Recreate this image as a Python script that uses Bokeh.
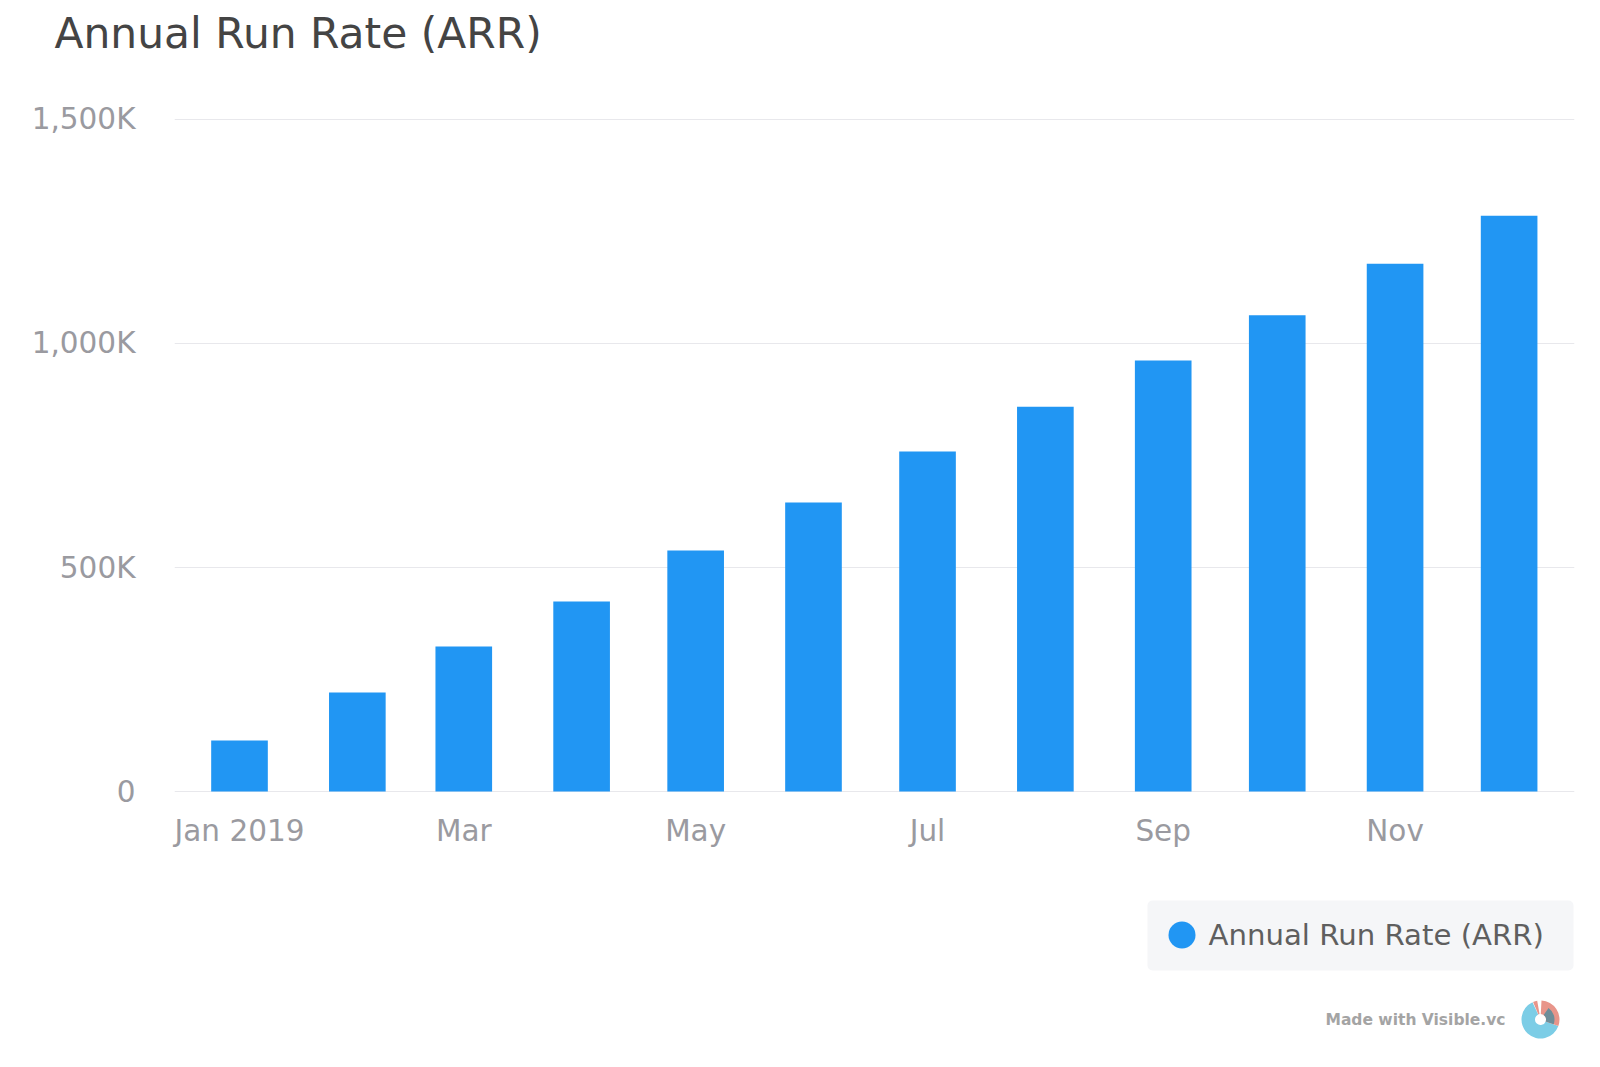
import math
import pandas as pd
from bokeh.plotting import figure
from bokeh.layouts import column
from bokeh.models import Range1d, FixedTicker, BoxAnnotation, Title
from bokeh.core.properties import value
from bokeh.embed import file_html
from bokeh.resources import INLINE

# ---- data ----
months = ["2019-01-01", "2019-02-01", "2019-03-01", "2019-04-01", "2019-05-01", "2019-06-01",
          "2019-07-01", "2019-08-01", "2019-09-01", "2019-10-01", "2019-11-01", "2019-12-01"]
arr_values = [114000, 221000, 324000, 424000, 538000, 645000,
              759000, 859000, 962000, 1063000, 1178000, 1285000]
series_name = "Annual Run Rate (ARR)"
x_tick_dates = ["2019-01-01", "2019-03-01", "2019-05-01", "2019-07-01", "2019-09-01", "2019-11-01"]
x_tick_labels = ["Jan 2019", "Mar", "May", "Jul", "Sep", "Nov"]
y_ticks = [0, 500000, 1000000, 1500000]
y_tick_labels = ["0", "500K", "1,000K", "1,500K"]

FONT = "DejaVu Sans"
BLUE = "#2196f3"
BL, BR = 174, 10          # frame borders (left/right) shared by both figures
W = 1584

def ms(d):
    return float(pd.Timestamp(d).value // 10**6)

xs = [pd.Timestamp(d) for d in months]
DAY = 86400000.0
x_start = ms(months[0]) - 17.1 * DAY
x_end = ms(months[-1]) + 17.2 * DAY

p = figure(width=W, height=878, x_axis_type="datetime", title=None,
           x_range=Range1d(x_start, x_end), y_range=Range1d(-2000, 1502000),
           output_backend="svg", toolbar_location=None,
           min_border_left=BL, min_border_right=BR, min_border_top=118, min_border_bottom=86)
p.outline_line_color = None
p.background_fill_color = "white"
p.border_fill_color = "white"

# spacer between frame and title, then the title itself
p.add_layout(Title(text=" ", text_font_size="1px", standoff=58), "above")
p.add_layout(Title(text=series_name, text_font=FONT, text_font_size="42.4px",
                   text_font_style="normal", text_color="#444444", align="left",
                   offset=54 - BL, standoff=0), "above")

p.vbar(x=xs, top=arr_values, width=14.9 * DAY, color=BLUE, line_color=None)

# axes
xa = p.xaxis[0]
xa.ticker = FixedTicker(ticks=[ms(d) for d in x_tick_dates])
xa.major_label_overrides = {ms(d): lab for d, lab in zip(x_tick_dates, x_tick_labels)}
ya = p.yaxis[0]
ya.ticker = FixedTicker(ticks=y_ticks)
ya.major_label_overrides = {t: lab for t, lab in zip(y_ticks, y_tick_labels)}
for ax in (xa, ya):
    ax.axis_line_color = None
    ax.major_tick_line_color = None
    ax.minor_tick_line_color = None
    ax.major_tick_out = 0
    ax.major_tick_in = 0
    ax.major_label_text_font = FONT
    ax.major_label_text_font_size = "29.5px"
    ax.major_label_text_color = "#9a9aa0"
xa.major_label_standoff = 21
ya.major_label_standoff = 39

p.xgrid.grid_line_color = None
p.ygrid.grid_line_color = "#e8e8ec"
p.ygrid.grid_line_width = 1

# ---- footer: legend + credit (x in page pixels, y = pixels up from footer bottom) ----
FH = 181
f = figure(width=W, height=FH, x_range=Range1d(BL, W - BR), y_range=Range1d(0, FH),
           output_backend="svg", toolbar_location=None,
           min_border_left=BL, min_border_right=BR, min_border_top=0, min_border_bottom=0)
f.axis.visible = False
f.grid.visible = False
f.outline_line_color = None
f.background_fill_color = "white"
f.border_fill_color = "white"

f.add_layout(BoxAnnotation(left=1147, right=1573, bottom=89, top=159, fill_color="#f5f6f8",
                           fill_alpha=1.0, line_color=None, border_radius=5, level="underlay"))
f.scatter(x=[1181.5], y=[124.5], size=27, marker="circle", color=BLUE, line_color=None)
f.text(x=[1208], y=[124.5], text=[series_name], text_font=value(FONT), text_font_size="29.2px",
       text_color="#5f5f5f", text_baseline="middle", text_align="left")

f.text(x=[1505], y=[40], text=["Made with Visible.vc"], text_font=value(FONT),
       text_font_size="15.5px", text_font_style="bold", text_color="#a4a4a4",
       text_baseline="middle", text_align="right")

d = math.pi / 180
cx, cy = [1540], [40]
f.annular_wedge(x=cx, y=cy, inner_radius=5.5, outer_radius=19,
                start_angle=[115 * d], end_angle=[340 * d], color="#7ccde6", line_color=None,
                inner_radius_units="screen", outer_radius_units="screen")
f.annular_wedge(x=cx * 2, y=cy * 2, inner_radius=5.5, outer_radius=19,
                start_angle=[100 * d, -20 * d], end_angle=[113 * d, 87 * d], color="#e8958a",
                line_color=None, inner_radius_units="screen", outer_radius_units="screen")
f.annular_wedge(x=cx, y=cy, inner_radius=5.5, outer_radius=14,
                start_angle=[-20 * d], end_angle=[55 * d], color="#6d8e9a", line_color=None,
                inner_radius_units="screen", outer_radius_units="screen")

layout = column(p, f, spacing=0)
open("out.html", "w").write(file_html(layout, INLINE))
